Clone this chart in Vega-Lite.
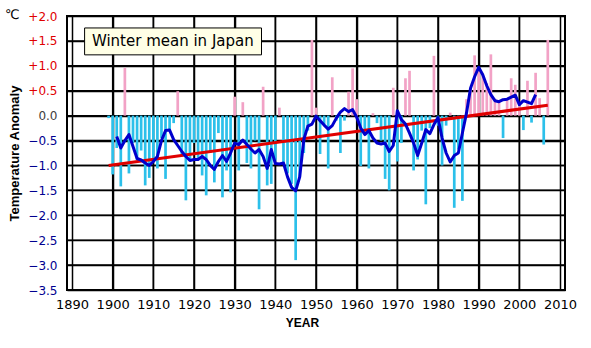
{
  "$schema": "https://vega.github.io/schema/vega-lite/v6.json",
  "autosize": "none",
  "padding": {"left": 67, "top": 16, "right": 26, "bottom": 58},
  "width": 498,
  "height": 274,
  "background": "white",
  "title": {"text": "℃", "anchor": "start", "frame": "group", "dx": -62, "dy": 12, "offset": 0, "fontSize": 13, "fontWeight": "normal", "font": "DejaVu Sans", "color": "#000000"},
  "config": {
    "view": {"stroke": "#000000", "strokeWidth": 2},
    "axis": {"grid": true, "gridColor": "#000000", "gridOpacity": 1, "gridWidth": 1.5, "domain": false, "ticks": false, "labelFont": "DejaVu Sans", "labelFontSize": 12, "labelOverlap": false, "titleFont": "Liberation Sans", "titleFontWeight": "bold", "titleFontSize": 13, "titleColor": "#000000"}
  },
  "datasets": {
    "decades": [{"decade": 1900}, {"decade": 1910}, {"decade": 1920}, {"decade": 1930}, {"decade": 1940}, {"decade": 1950}, {"decade": 1960}, {"decade": 1970}, {"decade": 1980}, {"decade": 1990}, {"decade": 2000}],
    "levels": [{"level": -3.0}, {"level": -2.5}, {"level": -2.0}, {"level": -1.5}, {"level": -1.0}, {"level": -0.5}, {"level": 0.0}, {"level": 0.5}, {"level": 1.0}, {"level": 1.5}],
    "bars": [
      {"year": 1899, "v": -0.05}, {"year": 1900, "v": -1.18}, {"year": 1901, "v": -0.65}, {"year": 1902, "v": -1.42}, {"year": 1903, "v": 0.96},
      {"year": 1904, "v": -1.16}, {"year": 1905, "v": -0.55}, {"year": 1906, "v": -0.9}, {"year": 1907, "v": -0.7}, {"year": 1908, "v": -1.4},
      {"year": 1909, "v": -1.25}, {"year": 1910, "v": -0.85}, {"year": 1911, "v": -1.06}, {"year": 1912, "v": -0.45}, {"year": 1913, "v": -1.27},
      {"year": 1914, "v": -0.3}, {"year": 1915, "v": -0.15}, {"year": 1916, "v": 0.49}, {"year": 1917, "v": -0.82}, {"year": 1918, "v": -1.7},
      {"year": 1919, "v": -0.9}, {"year": 1920, "v": -0.55}, {"year": 1921, "v": -0.85}, {"year": 1922, "v": -1.2}, {"year": 1923, "v": -1.6},
      {"year": 1924, "v": -0.75}, {"year": 1925, "v": -1.34}, {"year": 1926, "v": -0.35}, {"year": 1927, "v": -1.64}, {"year": 1928, "v": -1.1},
      {"year": 1929, "v": -1.54}, {"year": 1930, "v": 0.38}, {"year": 1931, "v": -1.1}, {"year": 1932, "v": 0.27}, {"year": 1933, "v": -0.95},
      {"year": 1934, "v": -1.06}, {"year": 1935, "v": -0.5}, {"year": 1936, "v": -1.88}, {"year": 1937, "v": 0.58}, {"year": 1938, "v": -1.4},
      {"year": 1939, "v": -1.37}, {"year": 1940, "v": -0.9}, {"year": 1941, "v": 0.16}, {"year": 1942, "v": -0.96}, {"year": 1943, "v": -1.16},
      {"year": 1944, "v": -1.37}, {"year": 1945, "v": -2.9}, {"year": 1946, "v": -1.23}, {"year": 1947, "v": -0.75}, {"year": 1948, "v": -0.3},
      {"year": 1949, "v": 1.52}, {"year": 1950, "v": 0.16}, {"year": 1951, "v": -0.77}, {"year": 1952, "v": -0.2}, {"year": 1953, "v": -1.06},
      {"year": 1954, "v": 0.77}, {"year": 1955, "v": -0.1}, {"year": 1956, "v": -0.75}, {"year": 1957, "v": -0.1}, {"year": 1958, "v": 0.48},
      {"year": 1959, "v": 0.95}, {"year": 1960, "v": 0.33}, {"year": 1961, "v": -1.01}, {"year": 1962, "v": -0.3}, {"year": 1963, "v": -1.06},
      {"year": 1964, "v": 0.05}, {"year": 1965, "v": -0.15}, {"year": 1966, "v": -0.5}, {"year": 1967, "v": -1.27}, {"year": 1968, "v": -1.5},
      {"year": 1969, "v": 0.56}, {"year": 1970, "v": -0.92}, {"year": 1971, "v": -0.55}, {"year": 1972, "v": 0.75}, {"year": 1973, "v": 0.9},
      {"year": 1974, "v": -1.1}, {"year": 1975, "v": -0.88}, {"year": 1976, "v": -0.3}, {"year": 1977, "v": -1.78}, {"year": 1978, "v": -0.25},
      {"year": 1979, "v": 1.2}, {"year": 1980, "v": -0.2}, {"year": 1981, "v": -1.0}, {"year": 1982, "v": -0.2}, {"year": 1983, "v": 0.06},
      {"year": 1984, "v": -1.85}, {"year": 1985, "v": -0.68}, {"year": 1986, "v": -1.71}, {"year": 1987, "v": 0.33}, {"year": 1988, "v": 0.55},
      {"year": 1989, "v": 1.21}, {"year": 1990, "v": 0.95}, {"year": 1991, "v": 0.84}, {"year": 1992, "v": 0.65}, {"year": 1993, "v": 1.23},
      {"year": 1994, "v": 0.34}, {"year": 1995, "v": 0.27}, {"year": 1996, "v": -0.45}, {"year": 1997, "v": 0.35}, {"year": 1998, "v": 0.75},
      {"year": 1999, "v": 0.62}, {"year": 2000, "v": 0.2}, {"year": 2001, "v": -0.29}, {"year": 2002, "v": 0.7}, {"year": 2003, "v": -0.14},
      {"year": 2004, "v": 0.86}, {"year": 2005, "v": 0.35}, {"year": 2006, "v": -0.58}, {"year": 2007, "v": 1.52}
    ],
    "rm": [
      {"year": 1901, "m": -0.42}, {"year": 1902, "m": -0.65}, {"year": 1903, "m": -0.5}, {"year": 1904, "m": -0.38}, {"year": 1905, "m": -0.62},
      {"year": 1906, "m": -0.86}, {"year": 1907, "m": -0.89}, {"year": 1908, "m": -0.95}, {"year": 1909, "m": -1.0}, {"year": 1910, "m": -0.92},
      {"year": 1911, "m": -0.82}, {"year": 1912, "m": -0.5}, {"year": 1913, "m": -0.3}, {"year": 1914, "m": -0.29}, {"year": 1915, "m": -0.48},
      {"year": 1916, "m": -0.6}, {"year": 1917, "m": -0.72}, {"year": 1918, "m": -0.82}, {"year": 1919, "m": -0.9}, {"year": 1920, "m": -0.88},
      {"year": 1921, "m": -0.88}, {"year": 1922, "m": -0.82}, {"year": 1923, "m": -0.88}, {"year": 1924, "m": -1.0}, {"year": 1925, "m": -1.08},
      {"year": 1926, "m": -0.92}, {"year": 1927, "m": -0.8}, {"year": 1928, "m": -0.92}, {"year": 1929, "m": -0.75}, {"year": 1930, "m": -0.55},
      {"year": 1931, "m": -0.58}, {"year": 1932, "m": -0.49}, {"year": 1933, "m": -0.58}, {"year": 1934, "m": -0.67}, {"year": 1935, "m": -0.75},
      {"year": 1936, "m": -0.68}, {"year": 1937, "m": -0.82}, {"year": 1938, "m": -1.06}, {"year": 1939, "m": -0.68}, {"year": 1940, "m": -0.96},
      {"year": 1941, "m": -0.97}, {"year": 1942, "m": -0.95}, {"year": 1943, "m": -1.23}, {"year": 1944, "m": -1.44}, {"year": 1945, "m": -1.51},
      {"year": 1946, "m": -1.23}, {"year": 1947, "m": -0.48}, {"year": 1948, "m": -0.21}, {"year": 1949, "m": -0.17}, {"year": 1950, "m": -0.01},
      {"year": 1951, "m": -0.1}, {"year": 1952, "m": -0.19}, {"year": 1953, "m": -0.27}, {"year": 1954, "m": -0.2}, {"year": 1955, "m": -0.05},
      {"year": 1956, "m": 0.07}, {"year": 1957, "m": 0.14}, {"year": 1958, "m": 0.08}, {"year": 1959, "m": 0.12}, {"year": 1960, "m": -0.03},
      {"year": 1961, "m": -0.25}, {"year": 1962, "m": -0.38}, {"year": 1963, "m": -0.3}, {"year": 1964, "m": -0.45}, {"year": 1965, "m": -0.55},
      {"year": 1966, "m": -0.57}, {"year": 1967, "m": -0.55}, {"year": 1968, "m": -0.72}, {"year": 1969, "m": -0.6}, {"year": 1970, "m": 0.1},
      {"year": 1971, "m": -0.08}, {"year": 1972, "m": -0.17}, {"year": 1973, "m": -0.35}, {"year": 1974, "m": -0.55}, {"year": 1975, "m": -0.8},
      {"year": 1976, "m": -0.55}, {"year": 1977, "m": -0.28}, {"year": 1978, "m": -0.36}, {"year": 1979, "m": -0.18}, {"year": 1980, "m": -0.04},
      {"year": 1981, "m": -0.45}, {"year": 1982, "m": -0.75}, {"year": 1983, "m": -0.93}, {"year": 1984, "m": -0.8}, {"year": 1985, "m": -0.75},
      {"year": 1986, "m": -0.35}, {"year": 1987, "m": 0.05}, {"year": 1988, "m": 0.55}, {"year": 1989, "m": 0.78}, {"year": 1990, "m": 0.97},
      {"year": 1991, "m": 0.82}, {"year": 1992, "m": 0.6}, {"year": 1993, "m": 0.42}, {"year": 1994, "m": 0.3}, {"year": 1995, "m": 0.28},
      {"year": 1996, "m": 0.32}, {"year": 1997, "m": 0.33}, {"year": 1998, "m": 0.37}, {"year": 1999, "m": 0.41}, {"year": 2000, "m": 0.22},
      {"year": 2001, "m": 0.3}, {"year": 2002, "m": 0.27}, {"year": 2003, "m": 0.24}, {"year": 2004, "m": 0.42}
    ],
    "trend": [{"year": 1899, "t": -1.0}, {"year": 2007, "t": 0.21}]
  },
  "layer": [
    {
      "data": {"name": "decades"},
      "mark": {"type": "rule", "color": "#000000", "strokeWidth": 1.5, "opacity": 1},
      "encoding": {
        "x": {"field": "decade", "type": "quantitative", "scale": {"domain": [1890, 2010], "nice": false, "zero": false}, "axis": {"grid": true, "labelOverlap": false, "values": [1890, 1900, 1910, 1920, 1930, 1940, 1950, 1960, 1970, 1980, 1990, 2000, 2010], "format": "d", "title": "YEAR", "labelPadding": 8, "labelFontSize": 13, "labelColor": "#000000", "titlePadding": 6, "titleFontSize": 12, "titleX": 235}}
      }
    },
    {
      "data": {"name": "levels"},
      "mark": {"type": "rule", "color": "#000000", "strokeWidth": 1.5, "opacity": 1},
      "encoding": {
        "y": {"field": "level", "type": "quantitative", "scale": {"domain": [-3.5, 2.0], "nice": false}, "axis": {"grid": true, "labelOverlap": false, "values": [-3.5, -3.0, -2.5, -2.0, -1.5, -1.0, -0.5, 0, 0.5, 1.0, 1.5, 2.0], "title": "Temperature Anomaly", "titlePadding": 6, "labelPadding": 10, "labelFontSize": 12, "labelExpr": "datum.value > 0 ? '+' + format(datum.value, '.1f') : format(datum.value, '.1f')", "labelColor": {"condition": [{"test": "datum.value > 0", "value": "#e00000"}, {"test": "datum.value == 0", "value": "#404040"}], "value": "#000090"}}}
      }
    },
    {
      "data": {"name": "bars"},
      "mark": {"type": "bar", "size": 2.7},
      "encoding": {
        "x": {"field": "year", "type": "quantitative", "axis": {"grid": true, "labelOverlap": false, "values": [1890, 1900, 1910, 1920, 1930, 1940, 1950, 1960, 1970, 1980, 1990, 2000, 2010], "format": "d", "title": "YEAR", "labelPadding": 8, "labelFontSize": 13, "labelColor": "#000000", "titlePadding": 6, "titleFontSize": 12, "titleX": 235}},
        "y": {"field": "v", "type": "quantitative", "axis": {"grid": true, "labelOverlap": false, "values": [-3.5, -3.0, -2.5, -2.0, -1.5, -1.0, -0.5, 0, 0.5, 1.0, 1.5, 2.0], "title": "Temperature Anomaly", "titlePadding": 6, "labelPadding": 10, "labelFontSize": 12, "labelExpr": "datum.value > 0 ? '+' + format(datum.value, '.1f') : format(datum.value, '.1f')", "labelColor": {"condition": [{"test": "datum.value > 0", "value": "#e00000"}, {"test": "datum.value == 0", "value": "#404040"}], "value": "#000090"}}},
        "color": {"condition": {"test": "datum.v > 0", "value": "#f2a2c6"}, "value": "#2cc0ea"}
      }
    },
    {
      "data": {"name": "trend"},
      "mark": {"type": "line", "color": "#e00000", "strokeWidth": 3},
      "encoding": {
        "x": {"field": "year", "type": "quantitative", "axis": {"grid": true, "labelOverlap": false, "values": [1890, 1900, 1910, 1920, 1930, 1940, 1950, 1960, 1970, 1980, 1990, 2000, 2010], "format": "d", "title": "YEAR", "labelPadding": 8, "labelFontSize": 13, "labelColor": "#000000", "titlePadding": 6, "titleFontSize": 12, "titleX": 235}},
        "y": {"field": "t", "type": "quantitative", "axis": {"grid": true, "labelOverlap": false, "values": [-3.5, -3.0, -2.5, -2.0, -1.5, -1.0, -0.5, 0, 0.5, 1.0, 1.5, 2.0], "title": "Temperature Anomaly", "titlePadding": 6, "labelPadding": 10, "labelFontSize": 12, "labelExpr": "datum.value > 0 ? '+' + format(datum.value, '.1f') : format(datum.value, '.1f')", "labelColor": {"condition": [{"test": "datum.value > 0", "value": "#e00000"}, {"test": "datum.value == 0", "value": "#404040"}], "value": "#000090"}}}
      }
    },
    {
      "data": {"name": "rm"},
      "mark": {"type": "line", "color": "#0000cc", "strokeWidth": 3, "strokeJoin": "round"},
      "encoding": {
        "x": {"field": "year", "type": "quantitative", "axis": {"grid": true, "labelOverlap": false, "values": [1890, 1900, 1910, 1920, 1930, 1940, 1950, 1960, 1970, 1980, 1990, 2000, 2010], "format": "d", "title": "YEAR", "labelPadding": 8, "labelFontSize": 13, "labelColor": "#000000", "titlePadding": 6, "titleFontSize": 12, "titleX": 235}},
        "y": {"field": "m", "type": "quantitative", "axis": {"grid": true, "labelOverlap": false, "values": [-3.5, -3.0, -2.5, -2.0, -1.5, -1.0, -0.5, 0, 0.5, 1.0, 1.5, 2.0], "title": "Temperature Anomaly", "titlePadding": 6, "labelPadding": 10, "labelFontSize": 12, "labelExpr": "datum.value > 0 ? '+' + format(datum.value, '.1f') : format(datum.value, '.1f')", "labelColor": {"condition": [{"test": "datum.value > 0", "value": "#e00000"}, {"test": "datum.value == 0", "value": "#404040"}], "value": "#000090"}}}
      }
    },
    {
      "data": {"values": [{}]},
      "mark": {"type": "rect", "fill": "#ffffe6", "stroke": "#000000", "strokeWidth": 1},
      "encoding": {
        "x": {"datum": 1893.1, "type": "quantitative", "axis": {"grid": true, "labelOverlap": false, "values": [1890, 1900, 1910, 1920, 1930, 1940, 1950, 1960, 1970, 1980, 1990, 2000, 2010], "format": "d", "title": "YEAR", "labelPadding": 8, "labelFontSize": 13, "labelColor": "#000000", "titlePadding": 6, "titleFontSize": 12, "titleX": 235}},
        "x2": {"datum": 1936.6},
        "y": {"datum": 1.76, "type": "quantitative", "axis": {"grid": true, "labelOverlap": false, "values": [-3.5, -3.0, -2.5, -2.0, -1.5, -1.0, -0.5, 0, 0.5, 1.0, 1.5, 2.0], "title": "Temperature Anomaly", "titlePadding": 6, "labelPadding": 10, "labelFontSize": 12, "labelExpr": "datum.value > 0 ? '+' + format(datum.value, '.1f') : format(datum.value, '.1f')", "labelColor": {"condition": [{"test": "datum.value > 0", "value": "#e00000"}, {"test": "datum.value == 0", "value": "#404040"}], "value": "#000090"}}},
        "y2": {"datum": 1.22}
      }
    },
    {
      "data": {"values": [{}]},
      "mark": {"type": "text", "text": "Winter mean in Japan", "align": "left", "baseline": "middle", "font": "DejaVu Sans", "fontSize": 15, "color": "#000000"},
      "encoding": {
        "x": {"datum": 1894.9, "type": "quantitative", "axis": {"grid": true, "labelOverlap": false, "values": [1890, 1900, 1910, 1920, 1930, 1940, 1950, 1960, 1970, 1980, 1990, 2000, 2010], "format": "d", "title": "YEAR", "labelPadding": 8, "labelFontSize": 13, "labelColor": "#000000", "titlePadding": 6, "titleFontSize": 12, "titleX": 235}},
        "y": {"datum": 1.49, "type": "quantitative", "axis": {"grid": true, "labelOverlap": false, "values": [-3.5, -3.0, -2.5, -2.0, -1.5, -1.0, -0.5, 0, 0.5, 1.0, 1.5, 2.0], "title": "Temperature Anomaly", "titlePadding": 6, "labelPadding": 10, "labelFontSize": 12, "labelExpr": "datum.value > 0 ? '+' + format(datum.value, '.1f') : format(datum.value, '.1f')", "labelColor": {"condition": [{"test": "datum.value > 0", "value": "#e00000"}, {"test": "datum.value == 0", "value": "#404040"}], "value": "#000090"}}}
      }
    }
  ]
}
